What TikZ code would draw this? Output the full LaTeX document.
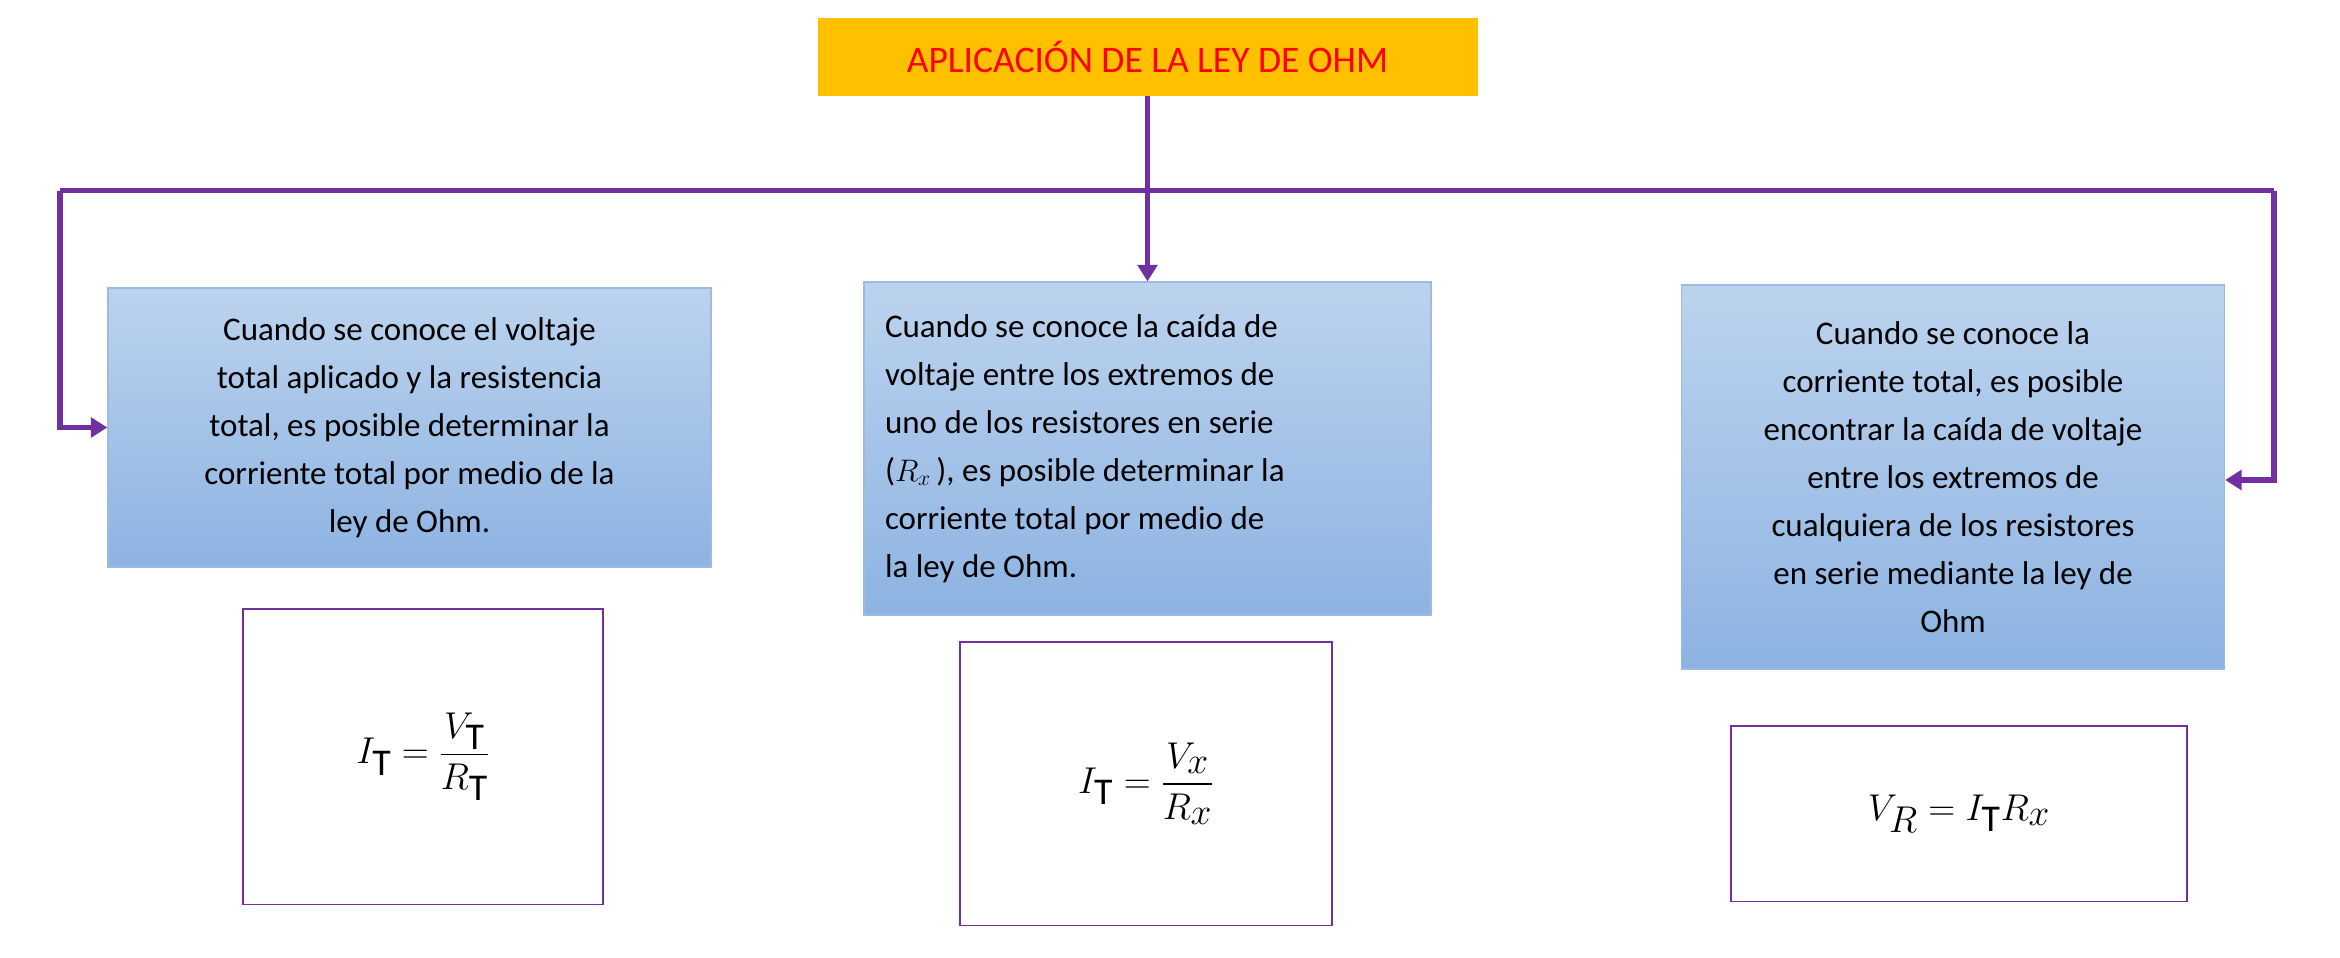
\documentclass[tikz,border=0pt]{standalone}
\usepackage{amsmath}
\usepackage{fontspec}
\setmainfont{Carlito}
\usetikzlibrary{arrows.meta}
\definecolor{purp}{HTML}{7030A0}
\definecolor{orng}{HTML}{FFC000}
\definecolor{btop}{HTML}{BCD3EE}
\definecolor{bbot}{HTML}{8DB3E2}
\definecolor{bedge}{HTML}{9BBBE0}
\begin{document}
\begin{tikzpicture}[x=1pt,y=-1pt,
  line/.style={draw=purp,line width=3.5pt},
  conn/.style={line,-{Triangle[length=11pt,width=13pt]}},
  info/.style={draw=bedge,line width=0.8pt,top color=btop,bottom color=bbot,inner sep=0pt,font=\fontsize{22}{32}\selectfont},
  fbox/.style={draw=purp,line width=1.2pt,fill=white}]
\useasboundingbox (0,0) rectangle (1560,638);
\node[fill=orng,minimum width=440pt,minimum height=52pt,text=red,font=\fontsize{25}{30}\selectfont] (t) at (765,38) {APLICACIÓN DE LA LEY DE OHM};
% boxes
\node[info,minimum width=402pt,minimum height=186pt,align=center] (b1) at (273,285) {Cuando se conoce el voltaje\\total aplicado y la resistencia\\total, es posible determinar la\\corriente total por medio de la\\ley de Ohm.};
\node[info,minimum width=378pt,minimum height=222pt] (b2) at (765,299) {\begin{minipage}{350pt}\raggedright\fontsize{22}{32}\selectfont Cuando se conoce la caída de\\voltaje entre los extremos de\\uno de los resistores en serie\\($R_x$\,), es posible determinar la\\corriente total por medio de\\la ley de Ohm.\end{minipage}};
\node[info,minimum width=362pt,minimum height=256pt,align=center] (b3) at (1302,318) {Cuando se conoce la\\corriente total, es posible\\encontrar la caída de voltaje\\entre los extremos de\\cualquiera de los resistores\\en serie mediante la ley de\\Ohm};
% formula boxes
\node[fbox,minimum width=240pt,minimum height=197pt,font=\fontsize{36}{40}\selectfont] (f1) at (282,504.5) {$I_{\mathrm{T}} = \dfrac{V_{\mathrm{T}}}{R_{\mathrm{T}}}$};
\node[fbox,minimum width=248pt,minimum height=189pt,font=\fontsize{36}{40}\selectfont] (f2) at (764,522.5) {$I_{\mathrm{T}} = \dfrac{V_x}{R_x}$};
\node[fbox,minimum width=304pt,minimum height=117pt,font=\fontsize{36}{40}\selectfont] (f3) at (1306,542.5) {$V_R = I_{\mathrm{T}}R_x$};
% connectors
\coordinate (j) at (765,127);
\coordinate (l) at (40,127);
\coordinate (r) at (1516,127);
\draw[line] (t.south) -- (j);
\draw[conn] (j) -- (b2.north);
\draw[line] (l) -- (r);
\draw[conn] (l) -- (40,285) -- (b1.west);
\draw[conn] (r) -- (1516,320) -- (b3.east |- 0,320);
\end{tikzpicture}
\end{document}
